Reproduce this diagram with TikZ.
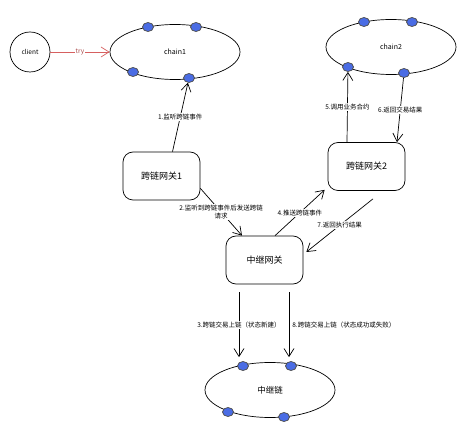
\documentclass[tikz,border=0pt]{standalone}
\usepackage{fontspec}
\setmainfont{Noto Sans CJK SC}
\usetikzlibrary{shapes.geometric,arrows.meta}
\definecolor{dotblue}{RGB}{74,108,228}
\definecolor{tryred}{RGB}{214,96,96}

\begin{document}
\begin{tikzpicture}[x=1pt,y=-1pt,>={Straight Barb[length=8pt,width=10pt]},line width=0.7pt,
    chain/.style={draw,ellipse,minimum width=130pt,minimum height=55pt,font=\fontsize{7}{8}\selectfont},
    gateway/.style={draw,rounded corners=10pt,minimum width=77pt,minimum height=48pt,font=\fontsize{9}{10}\selectfont},
    dot/.style={draw=black!70,fill=dotblue,ellipse,minimum width=11pt,minimum height=9pt,inner sep=0pt},
    lbl/.style={fill=white,inner sep=1pt,font=\fontsize{6.5}{7.5}\selectfont}]
  \useasboundingbox (0,0) rectangle (474,430);
  \node[draw,circle,minimum size=40pt,font=\fontsize{6.5}{7.5}\selectfont] (client) at (30,52) {client};
  \node[chain] (chain1) at (175,52) {chain1};
  \node[chain] (chain2) at (391,47) {chain2};
  \node[chain,font=\fontsize{8.5}{9.5}\selectfont] (relaychain) at (270,390) {中继链};
  \node[gateway] (gw1) at (161.5,176) {跨链网关1};
  \node[gateway] (gw2) at (366.5,166.5) {跨链网关2};
  \node[gateway] (relay) at (264.5,260) {中继网关};
  \node[dot] (c1a) at (148,27) {};
  \node[dot] (c1b) at (196,27) {};
  \node[dot] (c1c) at (133,72) {};
  \node[dot] (c1d) at (189,78) {};
  \node[dot] (c2a) at (364,22) {};
  \node[dot] (c2b) at (412,22) {};
  \node[dot] (c2c) at (348,67) {};
  \node[dot] (c2d) at (404,73) {};
  \node[dot] (rca) at (243,366) {};
  \node[dot] (rcb) at (291,366) {};
  \node[dot] (rcc) at (228,412) {};
  \node[dot] (rcd) at (284,417) {};
  \path[->]
    (client) edge[tryred] node[lbl,text=tryred!80!black] {try} (chain1)
    ([xshift=11pt]gw1.north) edge node[lbl] {1.监听跨链事件} (c1d)
    ([yshift=12pt]gw1.south east) edge node[lbl,align=center]
      {2.监听到跨链事件后发送跨链\\请求} ([xshift=-22.5pt]relay.north)
    ([shift={(-25.5pt,-8pt)}]relay.south) edge node[lbl]
      {3.跨链交易上链（状态新建）} ([shift={(-4pt,4pt)}]rca.north)
    ([xshift=10.5pt]relay.north) edge node[lbl] {4.推送跨链事件} ([shift={(-3pt,1pt)}]gw2.south west)
    ([xshift=-19.5pt]gw2.north) edge node[lbl] {5.调用业务合约} (c2c)
    (c2d) edge node[lbl] {6.返回交易结果} ([xshift=30.5pt]gw2.north)
    ([shift={(6.5pt,-8pt)}]gw2.south) edge node[lbl] {7.返回执行结果} ([shift={(3pt,8pt)}]relay.east)
    ([shift={(24.5pt,-8pt)}]relay.south) edge node[lbl,right=2pt]
      {8.跨链交易上链（状态成功或失败）} ([shift={(-2pt,4pt)}]rcb.north);
\end{tikzpicture}
\end{document}
